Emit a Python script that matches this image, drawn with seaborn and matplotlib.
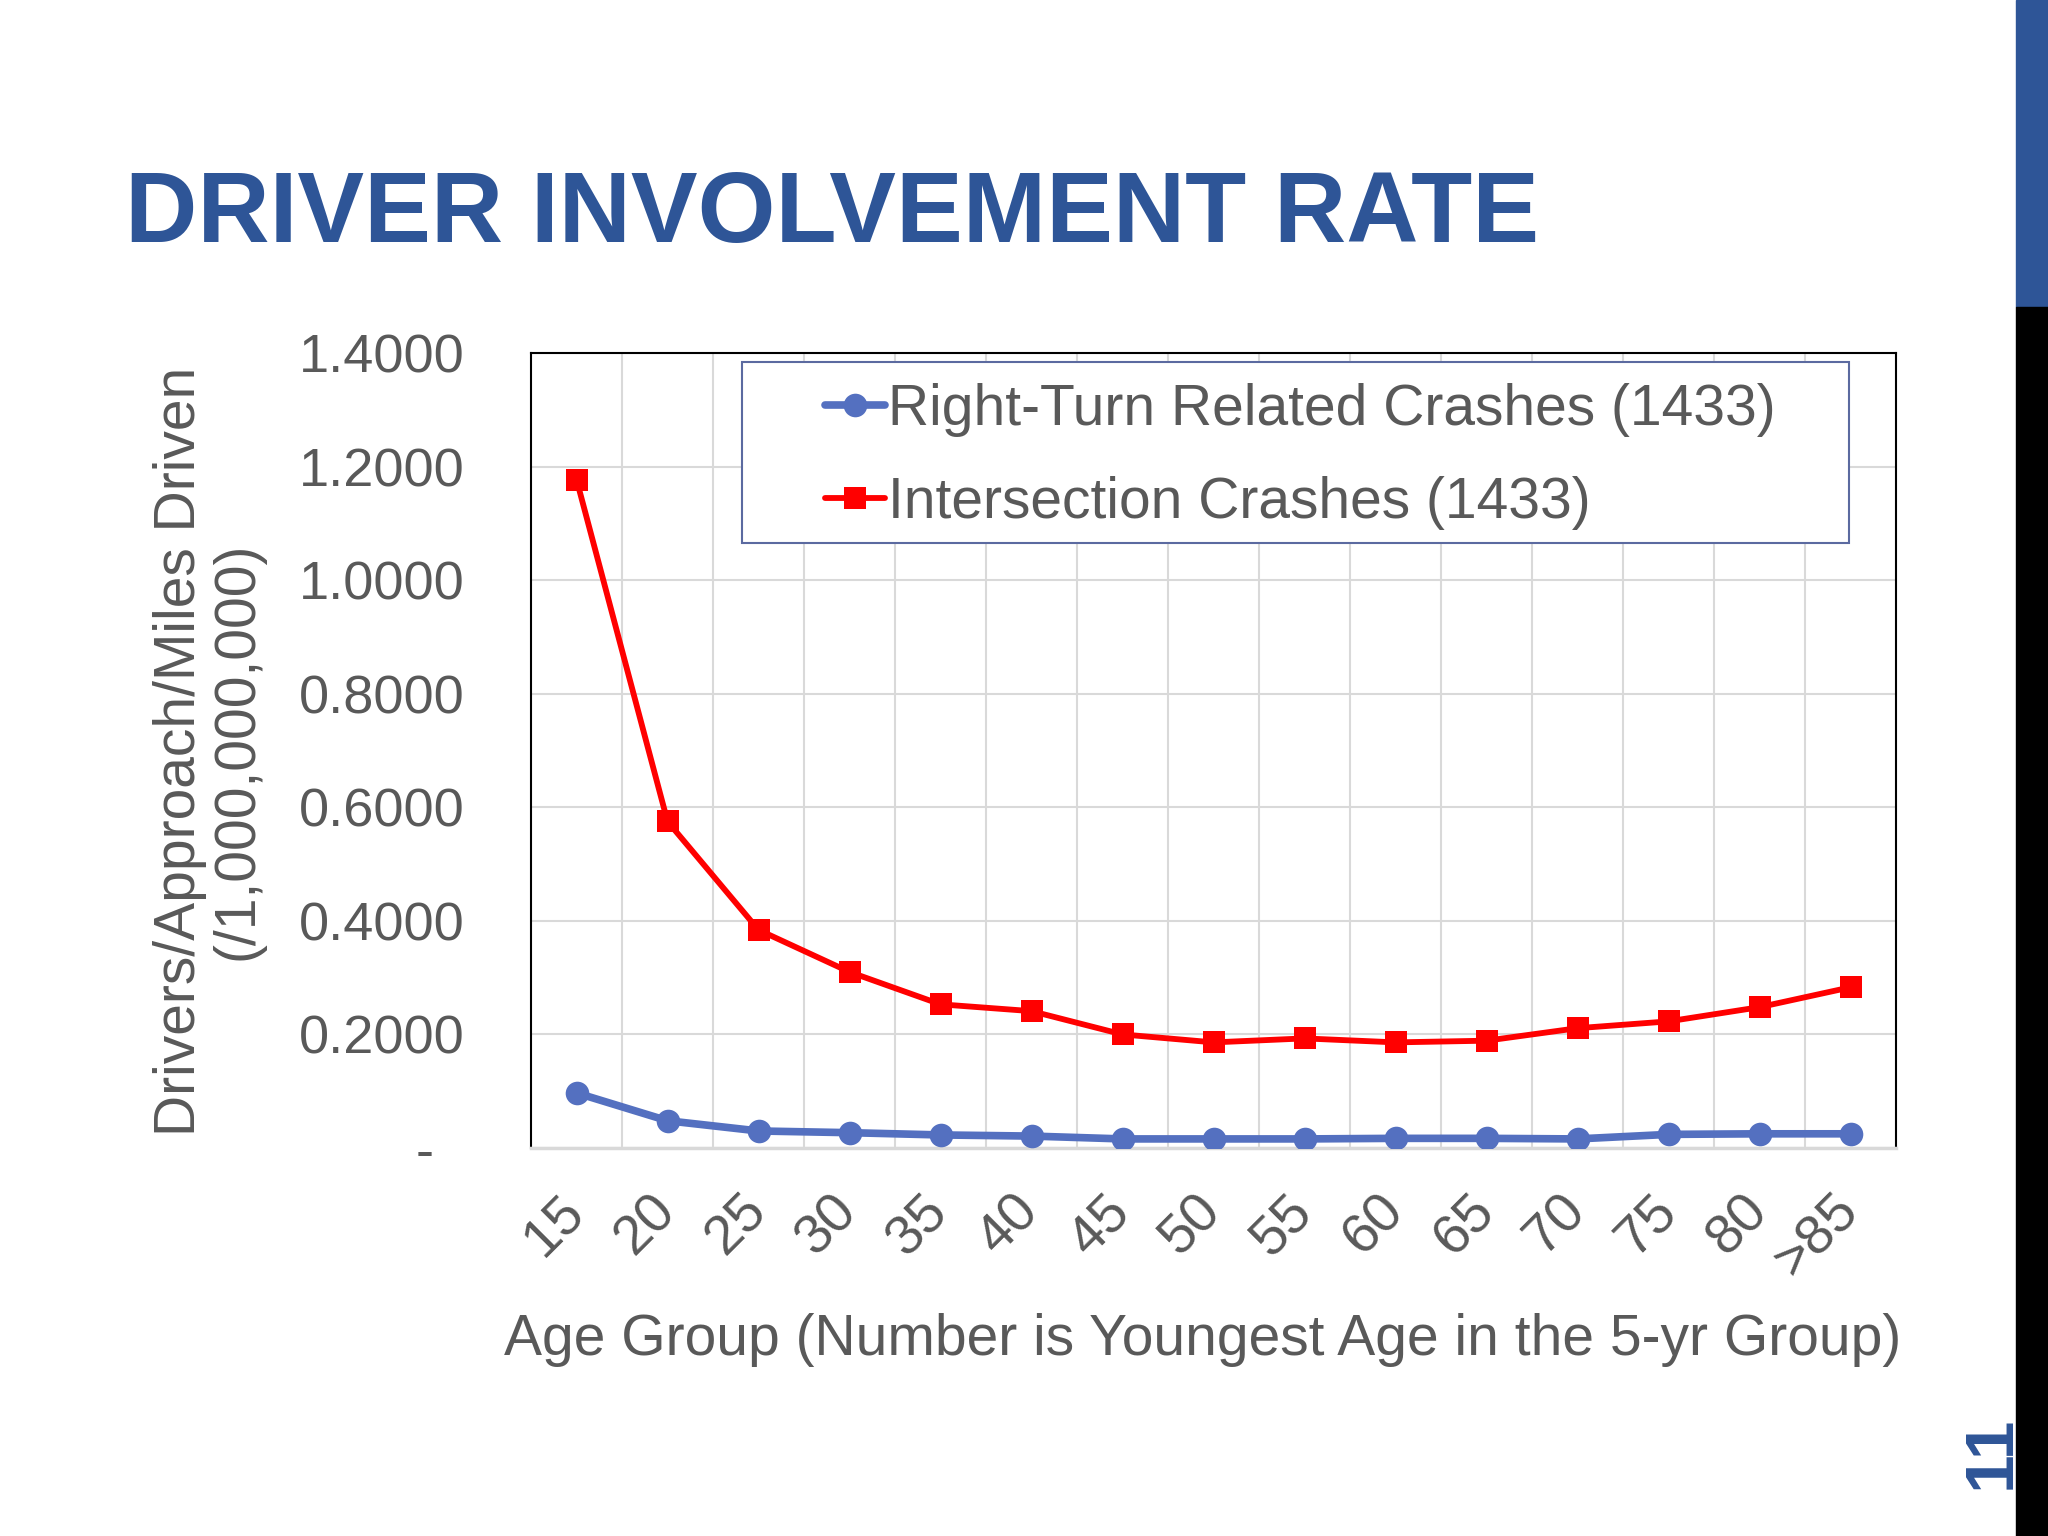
import matplotlib
matplotlib.use("Agg")
import matplotlib.pyplot as plt
from matplotlib.patches import Rectangle
import seaborn as sns
import pandas as pd

# values
age_groups = ["15", "20", "25", "30", "35", "40", "45", "50", "55", "60", "65", "70", "75", "80", ">85"]
right_turn = [0.097, 0.048, 0.030, 0.027, 0.023, 0.021, 0.016, 0.016, 0.016, 0.017, 0.017, 0.016, 0.024, 0.025, 0.025]
intersection = [1.177, 0.575, 0.384, 0.310, 0.253, 0.241, 0.200, 0.186, 0.193, 0.186, 0.189, 0.211, 0.223, 0.248, 0.283]
y_ticks = [0.0, 0.2, 0.4, 0.6, 0.8, 1.0, 1.2, 1.4]
y_ticklabels = ["-  ", "0.2000", "0.4000", "0.6000", "0.8000", "1.0000", "1.2000", "1.4000"]

sns.set_style("white")
plt.rcParams['font.family'] = ['Liberation Sans', 'DejaVu Sans']

TXT = "#595959"
NAVY = "#2E5597"
BLUE = "#5470C0"
RED = "#FF0000"

df = pd.DataFrame({"pos": list(range(len(age_groups))), "age": age_groups,
                   "rt": right_turn, "inter": intersection})

fig = plt.figure(figsize=(20.48, 15.36), dpi=100)
ax = fig.add_axes([0.2593, 0.2526, 0.6665, 0.5176])

sns.lineplot(data=df, x="pos", y="rt", ax=ax, color=BLUE, lw=5.5, marker="o",
             markersize=17, markeredgewidth=0, sort=False, label="Right-Turn Related Crashes (1433)", zorder=3)
sns.lineplot(data=df, x="pos", y="inter", ax=ax, color=RED, lw=4.2, marker="s",
             markersize=15.5, markeredgewidth=0, sort=False, label="Intersection Crashes (1433)", zorder=3)

ax.set_xlim(-0.5, len(age_groups) - 0.5)
ax.set_ylim(0, 1.4)
ax.set_yticks(y_ticks)
ax.set_yticklabels(y_ticklabels, fontsize=39, color=TXT)
ax.set_xticks(df["pos"])
ax.set_xticklabels(age_groups, fontsize=40, color=TXT, rotation=45, ha="right",
                   va="center", rotation_mode="anchor")
ax.set_xticks([p + 0.5 for p in range(len(age_groups) - 1)], minor=True)
ax.tick_params(axis="y", length=0, pad=48)
ax.tick_params(axis="x", which="both", length=0, pad=40)
ax.grid(True, axis="y", color="#D9D9D9", lw=1.5)
ax.grid(True, axis="x", which="minor", color="#D9D9D9", lw=1.5)
ax.set_axisbelow(True)
ax.set_xlabel("")
ax.set_ylabel("")
for side in ["left", "top", "right"]:
    ax.spines[side].set_color("black")
    ax.spines[side].set_linewidth(1.5)
ax.spines["bottom"].set_color("#D9D9D9")
ax.spines["bottom"].set_linewidth(2.5)

# legend box
ax.add_patch(Rectangle((0.1546, 0.761), 0.811, 0.2277, transform=ax.transAxes,
                       facecolor="white", edgecolor="#5B6AA0", lw=1.5, zorder=4))
leg = ax.legend(loc="upper left", bbox_to_anchor=(0.2154, 0.962), frameon=False,
                fontsize=41, handlelength=1.05, handletextpad=0.05, labelspacing=0.68,
                borderpad=0, borderaxespad=0)
leg.set_zorder(5)
for t in leg.get_texts():
    t.set_color(TXT)

fig.text(0.587, 0.1275, "Age Group (Number is Youngest Age in the 5-yr Group)",
         fontsize=41, color=TXT, ha="center", va="center")
fig.text(0.102, 0.511, "Drivers/Approach/Miles Driven\n(/1,000,000,000)", fontsize=41,
         color=TXT, ha="center", va="center", rotation=90, multialignment="center",
         linespacing=1.1)

fig.text(0.061, 0.8427, "DRIVER INVOLVEMENT RATE", fontsize=72, fontweight="bold",
         color=NAVY, ha="left", va="baseline")

# slide decorations
fig.text(0.9727, 0.0547, "11", fontsize=50, fontweight="bold", color=NAVY,
         rotation=90, ha="center", va="center", zorder=1)
fig.patches.append(Rectangle((2016 / 2048, 1 - 307 / 1536), 32 / 2048, 307 / 1536,
                             transform=fig.transFigure, color=NAVY, zorder=2))
fig.patches.append(Rectangle((2016 / 2048, 0), 32 / 2048, 1 - 307 / 1536,
                             transform=fig.transFigure, color="black", zorder=2))

fig.savefig("out.png", dpi=100)
plt.close(fig)
